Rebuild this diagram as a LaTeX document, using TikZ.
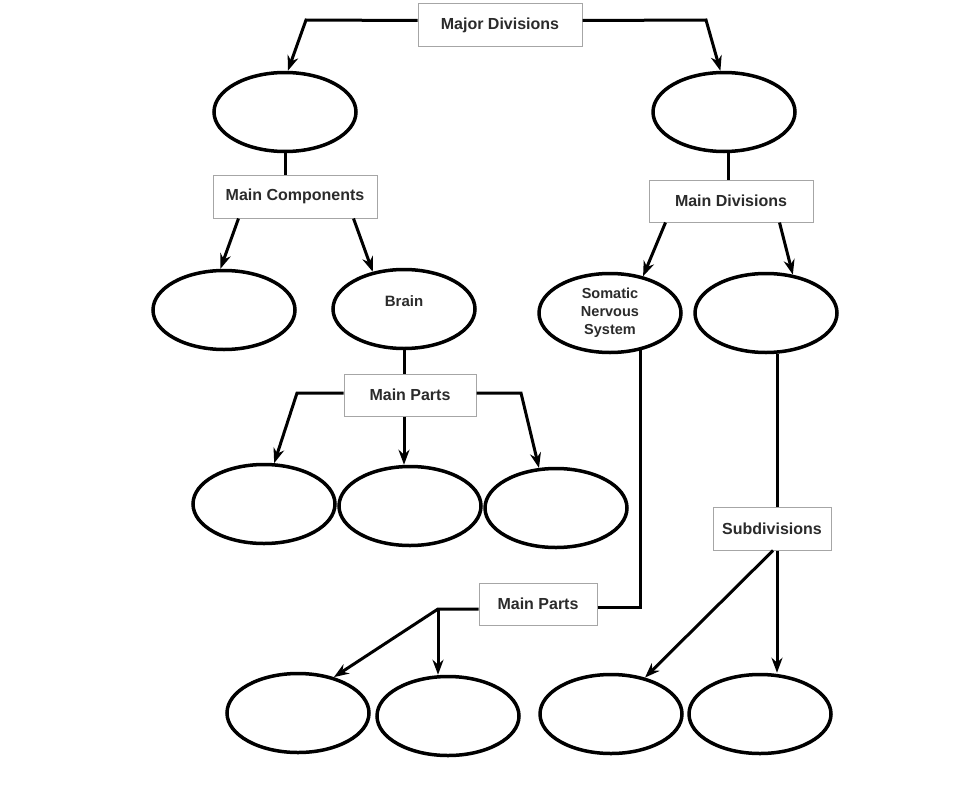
\documentclass[tikz,border=0pt]{standalone}
\usepackage{fontspec}
\newfontfamily\lab{Liberation Sans}
\usetikzlibrary{shapes.geometric,arrows.meta,calc}
\definecolor{txt}{HTML}{2B2B2B}
\tikzset{
  oval/.style={draw=black, line width=3.5pt, ellipse, minimum width=142pt, minimum height=79pt, inner sep=0pt, fill=white},
  lbox/.style={draw=gray!70, line width=1pt, fill=white, rectangle, inner sep=0pt, text=txt, font=\lab\bfseries\fontsize{16}{19}\selectfont},
  conn/.style={draw=black, line width=3pt},
  arr/.style={conn, -{Stealth[length=15pt,width=11pt]}}
}
\begin{document}
\begin{tikzpicture}[x=1pt,y=-1pt]
\useasboundingbox (0,0) rectangle (957,800);
% ellipses
\node[oval] (E1) at (285,112) {};
\node[oval] (E2) at (724,112) {};
\node[oval] (L2) at (224,310) {};
\node[oval] (Brain) at (404,309) {};
\node[oval, align=center, font=\lab\bfseries\fontsize{14.5}{18}\selectfont, text=txt] (Som) at (610,313) {Somatic\\Nervous\\System};
\node[oval] (R2) at (766,313) {};
\node[oval] (R3L) at (264,504) {};
\node[oval] (R3M) at (410,506) {};
\node[oval] (R3R) at (556,508) {};
\node[oval] (B1) at (298,713) {};
\node[oval] (B2) at (448,716) {};
\node[oval] (B3) at (611,714) {};
\node[oval] (B4) at (760,714) {};
\node[text=txt, font=\lab\bfseries\fontsize{15}{18}\selectfont] at (404,301) {Brain};
% boxes
\node[lbox, minimum width=164pt, minimum height=43pt] (md) at (500,25.5) {\raisebox{-3pt}{Major Divisions}};
\node[lbox, minimum width=164pt, minimum height=43pt] (mc) at (295,196.5) {Main Components};
\node[lbox, minimum width=164pt, minimum height=42pt] (mdiv) at (731,201) {Main Divisions};
\node[lbox, minimum width=132pt, minimum height=42pt] (mp1) at (410,395) {Main Parts};
\node[lbox, minimum width=118pt, minimum height=42pt] (mp2) at (538,604) {Main Parts};
\node[lbox, minimum width=118pt, minimum height=43pt] (sub) at (772,528.5) {Subdivisions};
% corner coordinates
\coordinate (c1) at (306,20);
\coordinate (c2) at (706,20);
\coordinate (c3) at (297,393);
\coordinate (c4) at (521,393);
\coordinate (c5) at (438,609);
% connectors
\draw[arr] ([yshift=5pt]md.west) -- (c1) -- (E1.86);
\draw[arr] ([yshift=5pt]md.east) -- (c2) -- (E2.95);
\draw[conn] (E1.south) -- (E1.south |- mc.north);
\draw[arr] ([xshift=26pt]mc.south west) -- (L2.95);
\draw[arr] ([xshift=-24pt]mc.south east) -- (Brain.130);
\draw[conn] ([xshift=-3pt]mdiv.north) -- ([xshift=-3pt]mdiv.north |- E2.south);
\draw[arr] ([xshift=17pt]mdiv.south west) -- (Som.48);
\draw[arr] ([xshift=-34pt]mdiv.south east) -- (R2.55);
\draw[conn] (Brain.south) -- (Brain.south |- mp1.north);
\draw[arr] ([yshift=2pt]mp1.west) -- (c3) -- (R3L.76);
\draw[arr] ([yshift=2pt]mp1.east) -- (c4) -- (R3R.113);
\draw[arr] ([xshift=-6pt]mp1.south) -- ([xshift=-6pt]mp1.south |- R3M.north);
\draw[conn] ([yshift=-3pt]mp2.east) -| (Som.-51);
\draw[arr] ([yshift=-5pt]mp2.west) -- (c5) -- (B1.45);
\draw[arr] (c5) -- (c5 |- B2.north);
\draw[conn] ([xshift=5pt]sub.north) -- ([xshift=5pt]sub.north |- R2.south);
\draw[arr] ([xshift=1pt]sub.south) -- (B3.47);
\draw[arr] ([xshift=5pt]sub.south) -- ([xshift=5pt]sub.south |- B4.north);
\end{tikzpicture}
\end{document}
